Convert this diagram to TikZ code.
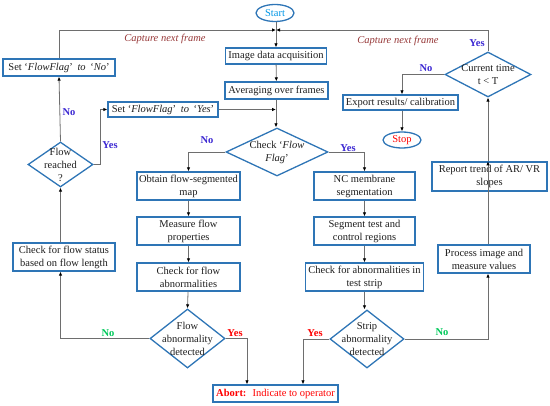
\documentclass[tikz,border=0pt]{standalone}
\usepackage{fontspec}
\setmainfont{Liberation Serif}
\usetikzlibrary{arrows.meta,shapes.geometric}
\definecolor{boxblue}{RGB}{46,117,182}
\definecolor{lblblue}{RGB}{60,40,210}
\definecolor{lblgreen}{RGB}{0,200,90}
\definecolor{lblred}{RGB}{255,0,0}
\definecolor{capred}{RGB}{150,55,55}
\definecolor{startblue}{RGB}{0,150,230}
\definecolor{linegray}{RGB}{110,110,110}
\definecolor{txt}{RGB}{30,30,30}
\tikzset{
  box/.style={draw=boxblue,line width=1.3pt,rectangle,inner sep=0pt,align=center,text=txt,font=\fontsize{10.5}{13}\selectfont},
  dia/.style={draw=boxblue,line width=1.3pt,diamond,inner sep=0pt},
  dtext/.style={align=center,text=txt,inner sep=0pt,font=\fontsize{10.5}{13}\selectfont},
  oval/.style={draw=boxblue,line width=1.3pt,ellipse,inner sep=0pt,font=\fontsize{10.5}{12}\selectfont},
  conn/.style={draw=linegray,line width=0.8pt,-{Latex[length=4pt,width=3.5pt,color=black]}},
  lbl/.style={font=\fontsize{10.5}{12}\selectfont\bfseries,inner sep=0pt},
  captxt/.style={font=\fontsize{10.5}{12}\selectfont\itshape,text=capred,inner sep=0pt}
}
\begin{document}
\begin{tikzpicture}[x=1pt,y=-1pt]
\useasboundingbox (0,0) rectangle (550,406);
% nodes
\node[oval,minimum width=38pt,minimum height=17pt,text=startblue] (start) at (275,13) {Start};
\node[box,minimum width=101pt,minimum height=16pt] (img) at (276,56) {Image data acquisition};
\node[box,minimum width=103pt,minimum height=17pt] (avg) at (276.5,90.5) {Averaging over frames};
\node[box,minimum width=110pt,minimum height=15pt] (setyes) at (163,109.5) {Set ‘\textit{FlowFlag}’\hspace{2pt} \textit{to}\hspace{2pt} ‘\textit{Yes}’};
\node[box,minimum width=112pt,minimum height=17pt] (setno) at (59,67.5) {Set ‘\textit{FlowFlag}’\hspace{2pt} \textit{to}\hspace{2pt} ‘\textit{No}’};
\node[dia,minimum width=65pt,minimum height=45pt] (fr) at (60.5,164.5) {};
\node[dtext] (frt) at (fr) {Flow\\reached\\?};
\node[box,minimum width=102pt,minimum height=28pt] (status) at (64,257) {Check for flow status\\based on flow length};
\node[dia,minimum width=102pt,minimum height=48pt] (check) at (277,152) {};
\node[dtext] (checkt) at (check) {Check ‘\textit{Flow}\\\textit{Flag}’};
\node[box,minimum width=103pt,minimum height=28pt] (obtain) at (188.5,186) {Obtain flow-segmented\\map};
\node[box,minimum width=103pt,minimum height=28pt] (measure) at (188.5,231) {Measure flow\\properties};
\node[box,minimum width=103pt,minimum height=28pt] (chkflow) at (188.5,277) {Check for flow\\abnormalities};
\node[dia,minimum width=75pt,minimum height=59pt] (fad) at (187.5,338.5) {};
\node[dtext] (fadt) at (fad) {Flow\\abnormality\\detected};
\node[box,minimum width=125pt,minimum height=17pt,text=lblred] (abort) at (275.5,393.5) {\textbf{Abort:} \ Indicate to operator};
\node[box,minimum width=101pt,minimum height=28pt] (nc) at (364.5,186) {NC membrane\\segmentation};
\node[box,minimum width=101pt,minimum height=28pt] (seg) at (364.5,231) {Segment test and\\control regions};
\node[box,minimum width=118pt,minimum height=28pt] (chkstrip) at (364.5,277) {Check for abnormalities in\\test strip};
\node[dia,minimum width=74pt,minimum height=58pt] (sad) at (367,339) {};
\node[dtext] (sadt) at (sad) {Strip\\abnormality\\detected};
\node[box,minimum width=92pt,minimum height=28pt] (proc) at (484,259) {Process image and\\measure values};
\node[box,minimum width=115pt,minimum height=29pt] (report) at (489.5,176.5) {Report trend of AR/ VR\\slopes};
\node[dia,minimum width=86pt,minimum height=45pt] (ct) at (488,74.5) {};
\node[dtext] (ctt) at (ct) {Current time\\t < T};
\node[box,minimum width=115pt,minimum height=15pt] (export) at (400.5,102.5) {Export results/ calibration};
\node[oval,minimum width=38pt,minimum height=16pt,text=lblred] (stop) at (402,140) {Stop};
% coordinates
\coordinate (ctop) at (276,30);
\coordinate (jyes) at (276,109.5);
% connectors
\draw[conn] (start.south -| img.north) -- (img);
\draw[conn] (img) -- (avg);
\draw[conn] (avg.south -| jyes) -- (jyes |- check.north);
\draw[conn] (setyes) -- (jyes);
\draw[conn] (fr.east) -- ++(7,0) |- (setyes.west);
\draw[conn] (fr.north) -- (setno.south);
\draw[conn] (setno.north) |- (ctop);
\draw[conn] (ct.north) |- (ctop);
\draw[conn] (check.west) -| (obtain.north);
\draw[conn] (check.east) -| (nc.north);
\draw[conn] (obtain) -- (measure);
\draw[conn] (measure) -- (chkflow);
\draw[conn] (chkflow) -- (fad.north);
\draw[conn] (nc) -- (seg);
\draw[conn] (seg) -- (chkstrip);
\draw[conn] (chkstrip.south) -- (chkstrip.south |- sad.north);
\draw[conn] (fad.west) -| (status.south -| fr.south);
\draw[conn] (status.north -| fr.south) -- (fr.south);
\draw[conn] (fad.east) -| ([xshift=-28.5pt]abort.north);
\draw[conn] (sad.west) -| ([xshift=27.5pt]abort.north);
\draw[conn] (sad.east) -| (proc.south -| ct.south);
\draw[conn] (proc.north -| ct.south) -- (report.north -| ct.south);
\draw[conn] (report.north -| ct.south) -- (ct.south);
\draw[conn] (ct.west) -| (export.north -| stop.north);
\draw[conn] (export.south -| stop.north) -- (stop.north);
% labels
\node[captxt] (cap1) at (165,39) {Capture next frame};
\node[captxt] (cap2) at (398,41) {Capture next frame};
\node[lbl,text=lblblue] (l1) at (69,112) {No};
\node[lbl,text=lblblue] (l2) at (110,145) {Yes};
\node[lbl,text=lblblue] (l3) at (207,140) {No};
\node[lbl,text=lblblue] (l4) at (348,148) {Yes};
\node[lbl,text=lblgreen] (l5) at (108,333) {No};
\node[lbl,text=lblred] (l6) at (235,333) {Yes};
\node[lbl,text=lblred] (l7) at (315,333) {Yes};
\node[lbl,text=lblgreen] (l8) at (442,332) {No};
\node[lbl,text=lblblue] (l9) at (477,43) {Yes};
\node[lbl,text=lblblue] (l10) at (426,68) {No};
\end{tikzpicture}
\end{document}
